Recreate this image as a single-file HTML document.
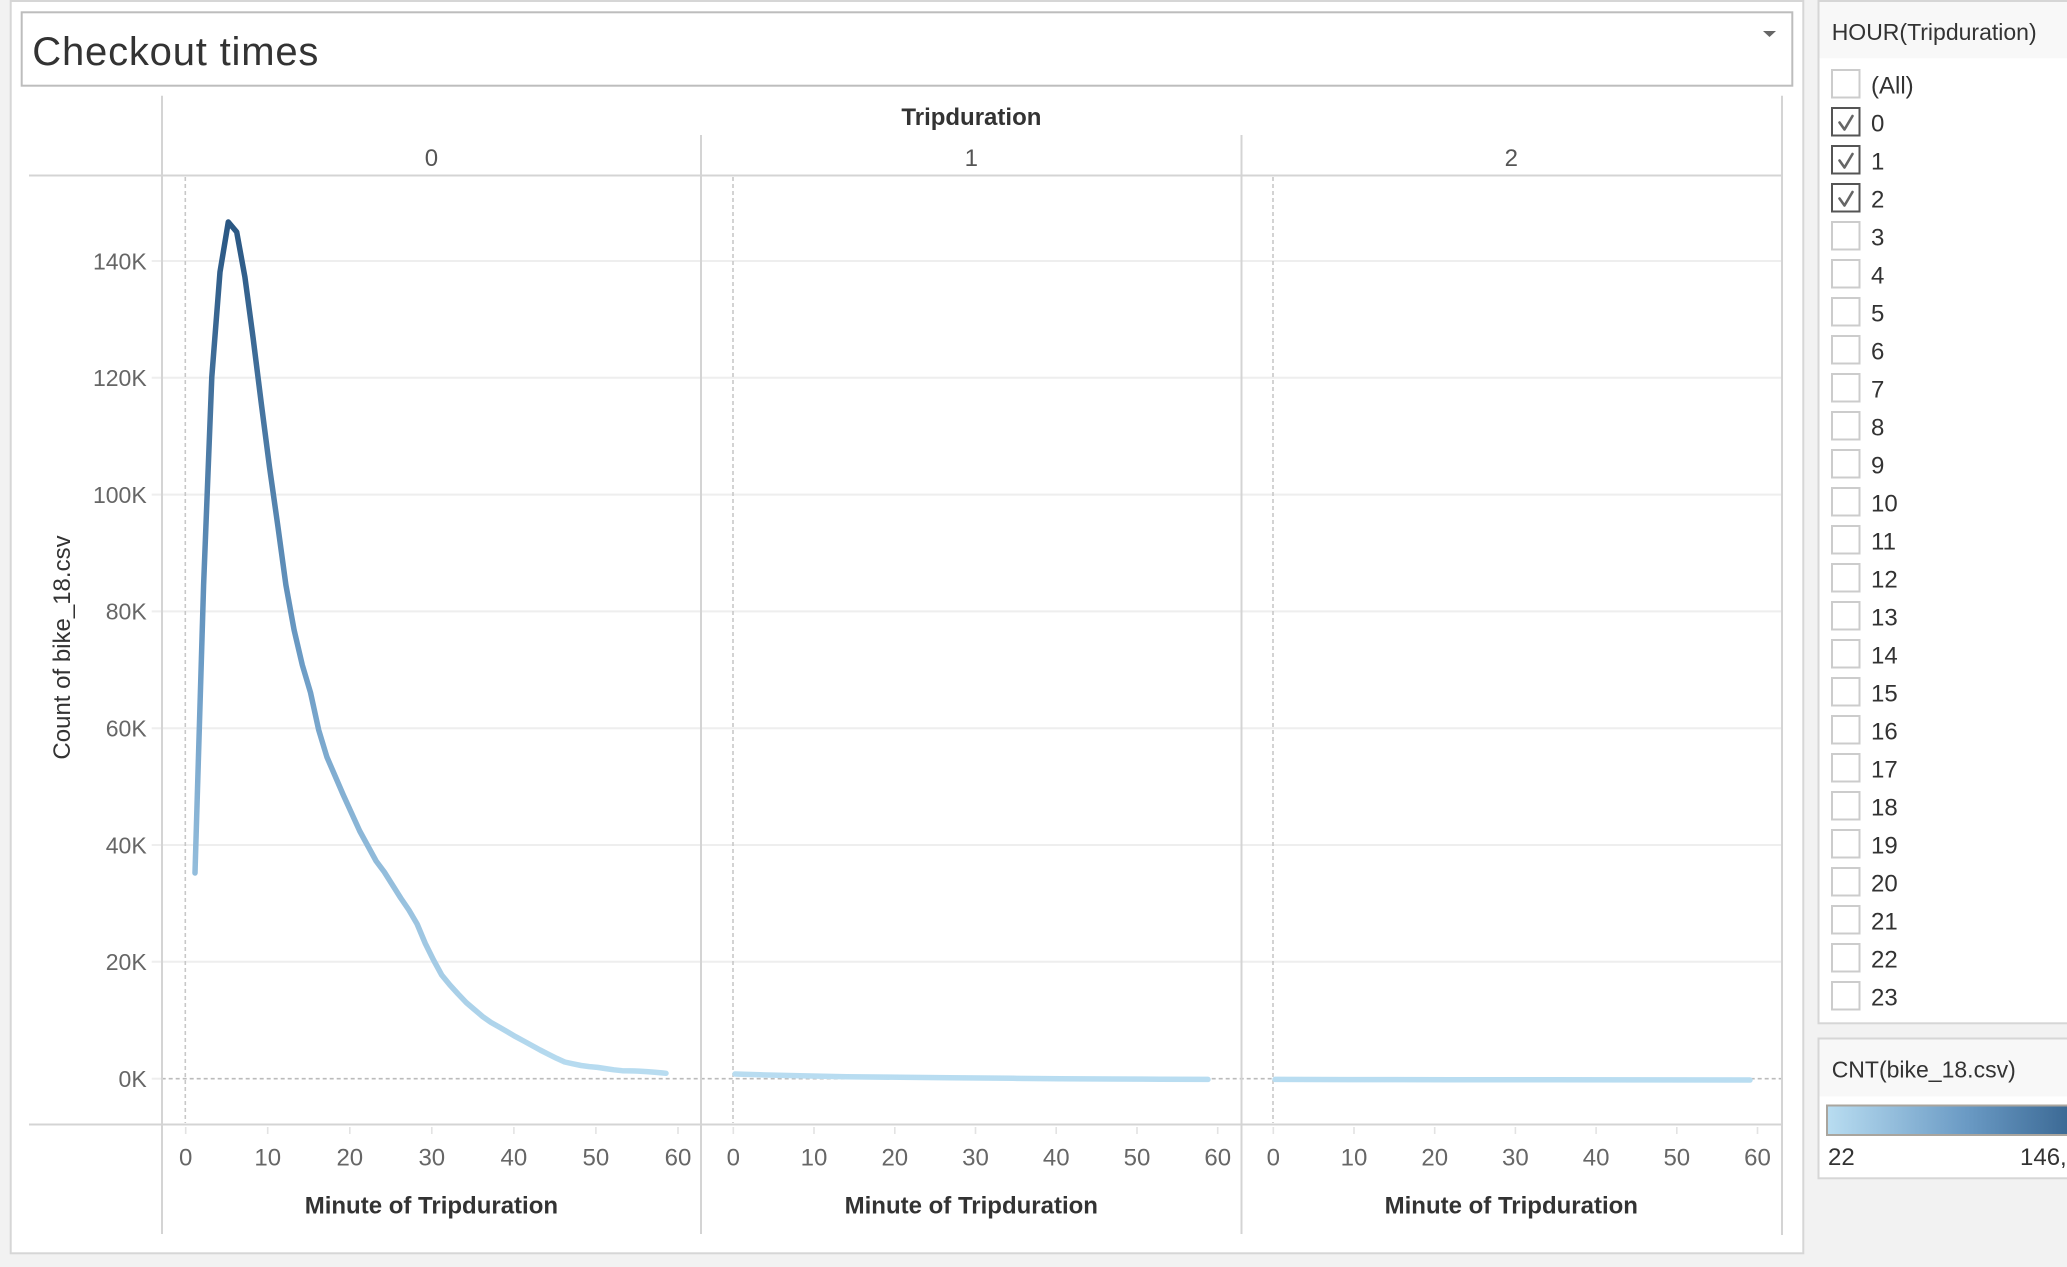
<!DOCTYPE html>
<html>
<head>
<meta charset="utf-8">
<style>
html,body{margin:0;padding:0;background:#f2f2f2;}
svg{display:block;}
text{font-family:"Liberation Sans",sans-serif;}
</style>
</head>
<body>
<svg width="2067" height="1267" viewBox="0 0 2067 1267" xmlns="http://www.w3.org/2000/svg">
<defs>
  <linearGradient id="val" gradientUnits="userSpaceOnUse" x1="0" y1="1078.7" x2="0" y2="221.7">
    <stop offset="0" stop-color="#b9ddf1"/>
    <stop offset="0.5" stop-color="#6a9ac4"/>
    <stop offset="1" stop-color="#2a5783"/>
  </linearGradient>
  <linearGradient id="leg" gradientUnits="userSpaceOnUse" x1="1827" y1="0" x2="2107" y2="0">
    <stop offset="0" stop-color="#b9ddf1"/>
    <stop offset="0.5" stop-color="#6a9ac4"/>
    <stop offset="1" stop-color="#2a5783"/>
  </linearGradient>
</defs>

<!-- page background -->
<rect x="0" y="0" width="2067" height="1267" fill="#f2f2f2"/>

<!-- dashboard container -->
<rect x="10.7" y="1" width="1792.6" height="1252.3" fill="#ffffff" stroke="#d6d6d6" stroke-width="2"/>

<!-- title box -->
<rect x="21.7" y="12.3" width="1770.6" height="73.4" fill="#ffffff" stroke="#bdbdbd" stroke-width="2"/>
<text x="32.3" y="65" font-size="40" fill="#333333" letter-spacing="0.8">Checkout times</text>
<polygon points="1763,31 1776,31 1769.5,37" fill="#666666"/>

<!-- gridlines -->
<g stroke="#eeeeee" stroke-width="2">
  <line x1="151.7" y1="261" x2="1781" y2="261"/>
  <line x1="151.7" y1="377.8" x2="1781" y2="377.8"/>
  <line x1="151.7" y1="494.6" x2="1781" y2="494.6"/>
  <line x1="151.7" y1="611.4" x2="1781" y2="611.4"/>
  <line x1="151.7" y1="728.2" x2="1781" y2="728.2"/>
  <line x1="151.7" y1="845" x2="1781" y2="845"/>
  <line x1="151.7" y1="961.8" x2="1781" y2="961.8"/>
  <line x1="151.7" y1="1078.7" x2="161.7" y2="1078.7"/>
</g>

<!-- zero dashed line -->
<line x1="161.7" y1="1078.7" x2="1781" y2="1078.7" stroke="#bbbbbb" stroke-width="1.6" stroke-dasharray="4 3"/>

<!-- x=0 dashed verticals -->
<g stroke="#c8c8c8" stroke-width="1.6" stroke-dasharray="4 3">
  <line x1="185.3" y1="177" x2="185.3" y2="1123"/>
  <line x1="733" y1="177" x2="733" y2="1123"/>
  <line x1="1273" y1="177" x2="1273" y2="1123"/>
</g>

<!-- chart frame lines -->
<g stroke="#d4d4d4" stroke-width="2" fill="none">
  <line x1="162" y1="95.7" x2="162" y2="1234"/>
  <line x1="1782" y1="95.7" x2="1782" y2="1235"/>
  <line x1="701" y1="135" x2="701" y2="1234"/>
  <line x1="1241.5" y1="135" x2="1241.5" y2="1234"/>
  <line x1="29" y1="175.5" x2="1782" y2="175.5"/>
  <line x1="29" y1="1124.5" x2="1782" y2="1124.5"/>
</g>

<!-- x tick marks -->
<g stroke="#e3e3e3" stroke-width="1.6">
  <line x1="185.7" y1="1127" x2="185.7" y2="1134"/>
  <line x1="267.7" y1="1127" x2="267.7" y2="1134"/>
  <line x1="349.8" y1="1127" x2="349.8" y2="1134"/>
  <line x1="431.8" y1="1127" x2="431.8" y2="1134"/>
  <line x1="513.9" y1="1127" x2="513.9" y2="1134"/>
  <line x1="595.9" y1="1127" x2="595.9" y2="1134"/>
  <line x1="678" y1="1127" x2="678" y2="1134"/>
  <line x1="733.3" y1="1127" x2="733.3" y2="1134"/>
  <line x1="814" y1="1127" x2="814" y2="1134"/>
  <line x1="894.8" y1="1127" x2="894.8" y2="1134"/>
  <line x1="975.5" y1="1127" x2="975.5" y2="1134"/>
  <line x1="1056.2" y1="1127" x2="1056.2" y2="1134"/>
  <line x1="1137" y1="1127" x2="1137" y2="1134"/>
  <line x1="1217.7" y1="1127" x2="1217.7" y2="1134"/>
  <line x1="1273.3" y1="1127" x2="1273.3" y2="1134"/>
  <line x1="1354" y1="1127" x2="1354" y2="1134"/>
  <line x1="1434.7" y1="1127" x2="1434.7" y2="1134"/>
  <line x1="1515.4" y1="1127" x2="1515.4" y2="1134"/>
  <line x1="1596.1" y1="1127" x2="1596.1" y2="1134"/>
  <line x1="1676.8" y1="1127" x2="1676.8" y2="1134"/>
  <line x1="1757.5" y1="1127" x2="1757.5" y2="1134"/>
</g>

<!-- headers -->
<text x="971.4" y="125" font-size="24" font-weight="bold" fill="#333333" text-anchor="middle">Tripduration</text>
<g font-size="24" fill="#555555" text-anchor="middle">
  <text x="431.4" y="166">0</text>
  <text x="971.3" y="166">1</text>
  <text x="1511.3" y="166">2</text>
</g>

<!-- y axis labels -->
<g font-size="23" fill="#666666" text-anchor="end">
  <text x="146.7" y="269.3">140K</text>
  <text x="146.7" y="386.1">120K</text>
  <text x="146.7" y="502.9">100K</text>
  <text x="146.7" y="619.7">80K</text>
  <text x="146.7" y="736.5">60K</text>
  <text x="146.7" y="853.3">40K</text>
  <text x="146.7" y="970.1">20K</text>
  <text x="146.7" y="1087">0K</text>
</g>
<text transform="translate(70,647.5) rotate(-90)" font-size="24" fill="#333333" text-anchor="middle">Count of bike_18.csv</text>

<!-- x tick labels -->
<g font-size="24" fill="#666666" text-anchor="middle">
  <text x="185.7" y="1165.3">0</text>
  <text x="267.7" y="1165.3">10</text>
  <text x="349.8" y="1165.3">20</text>
  <text x="431.8" y="1165.3">30</text>
  <text x="513.9" y="1165.3">40</text>
  <text x="595.9" y="1165.3">50</text>
  <text x="678" y="1165.3">60</text>
  <text x="733.3" y="1165.3">0</text>
  <text x="814" y="1165.3">10</text>
  <text x="894.8" y="1165.3">20</text>
  <text x="975.5" y="1165.3">30</text>
  <text x="1056.2" y="1165.3">40</text>
  <text x="1137" y="1165.3">50</text>
  <text x="1217.7" y="1165.3">60</text>
  <text x="1273.3" y="1165.3">0</text>
  <text x="1354" y="1165.3">10</text>
  <text x="1434.7" y="1165.3">20</text>
  <text x="1515.4" y="1165.3">30</text>
  <text x="1596.1" y="1165.3">40</text>
  <text x="1676.8" y="1165.3">50</text>
  <text x="1757.5" y="1165.3">60</text>
</g>
<g font-size="24" font-weight="bold" fill="#333333" text-anchor="middle">
  <text x="431.4" y="1213.3">Minute of Tripduration</text>
  <text x="971.3" y="1213.3">Minute of Tripduration</text>
  <text x="1511.3" y="1213.3">Minute of Tripduration</text>
</g>

<!-- data lines -->
<g fill="none" stroke="url(#val)" stroke-width="5.5" stroke-linejoin="round" stroke-linecap="round">
  <polyline points="195,873 203.6,585 211.8,377 220,272 228.3,222 236.7,232 244.9,277 253.1,338 261.3,403.5 269.5,467 277.7,525 285.9,585 294.1,630 302.3,665 310.5,692.5 318.7,730 326.9,757 335.1,776 343.3,795 351.5,813 359.7,831 367.9,846 376.1,861 384.3,872 392.5,885 400.7,898 408.9,910 417.1,924 425.3,943.5 433.5,960 441.7,975 449.9,985 458.1,994 466.3,1002.6 474.5,1009.6 482.7,1016.6 490.9,1022.4 499.1,1027 507.3,1031.8 515.5,1036.6 523.7,1041 531.9,1045.5 540.1,1050 548.3,1054.2 556.5,1058.3 564.7,1062 572.9,1063.8 581.1,1065.5 589.3,1066.6 597.5,1067.4 605.7,1068.6 613.9,1069.8 622.1,1070.7 630.3,1070.9 638.5,1071.1 646.7,1071.6 654.9,1072.3 663.1,1073 666,1073.3"/>
  <polyline points="735,1074 760,1074.8 800,1075.8 846.7,1076.7 900,1077.3 950,1077.8 1013,1078.3 1060,1078.7 1110,1079 1160,1079.2 1208,1079.4"/>
  <polyline points="1275,1079.4 1350,1079.6 1450,1079.7 1550,1079.8 1650,1079.9 1750,1080"/>
</g>

<!-- filter panel -->
<rect x="1818.5" y="1" width="270" height="1022.3" fill="#ffffff" stroke="#d6d6d6" stroke-width="2"/>
<rect x="1819.5" y="2" width="268" height="56.3" fill="#f8f8f8"/>
<text x="1831.7" y="40" font-size="23" fill="#333333">HOUR(Tripduration)</text>

<g fill="#ffffff" stroke="#cccccc" stroke-width="2">
  <rect x="1832" y="70" width="27.5" height="27.5"/>
  <rect x="1832" y="184" width="27.5" height="27.5"/>
  <rect x="1832" y="222" width="27.5" height="27.5"/>
  <rect x="1832" y="260" width="27.5" height="27.5"/>
  <rect x="1832" y="298" width="27.5" height="27.5"/>
  <rect x="1832" y="336" width="27.5" height="27.5"/>
  <rect x="1832" y="374" width="27.5" height="27.5"/>
  <rect x="1832" y="412" width="27.5" height="27.5"/>
  <rect x="1832" y="450" width="27.5" height="27.5"/>
  <rect x="1832" y="488" width="27.5" height="27.5"/>
  <rect x="1832" y="526" width="27.5" height="27.5"/>
  <rect x="1832" y="564" width="27.5" height="27.5"/>
  <rect x="1832" y="602" width="27.5" height="27.5"/>
  <rect x="1832" y="640" width="27.5" height="27.5"/>
  <rect x="1832" y="678" width="27.5" height="27.5"/>
  <rect x="1832" y="716" width="27.5" height="27.5"/>
  <rect x="1832" y="754" width="27.5" height="27.5"/>
  <rect x="1832" y="792" width="27.5" height="27.5"/>
  <rect x="1832" y="830" width="27.5" height="27.5"/>
  <rect x="1832" y="868" width="27.5" height="27.5"/>
  <rect x="1832" y="906" width="27.5" height="27.5"/>
  <rect x="1832" y="944" width="27.5" height="27.5"/>
  <rect x="1832" y="982" width="27.5" height="27.5"/>
</g>
<g fill="#ffffff" stroke="#555555" stroke-width="2">
  <rect x="1832" y="108" width="27.5" height="27.5"/>
  <rect x="1832" y="146" width="27.5" height="27.5"/>
  <rect x="1832" y="184" width="27.5" height="27.5"/>
</g>
<g fill="none" stroke="#666666" stroke-width="2.6" stroke-linecap="round" stroke-linejoin="round">
  <polyline points="1839.5,122.5 1844.5,129.5 1852.5,116"/>
  <polyline points="1839.5,160.5 1844.5,167.5 1852.5,154"/>
  <polyline points="1839.5,198.5 1844.5,205.5 1852.5,192"/>
</g>
<g font-size="24" fill="#333333">
  <text x="1871" y="93.5">(All)</text>
  <text x="1871" y="131.5">0</text>
  <text x="1871" y="169.5">1</text>
  <text x="1871" y="207.5">2</text>
  <text x="1871" y="245.5">3</text>
  <text x="1871" y="283.5">4</text>
  <text x="1871" y="321.5">5</text>
  <text x="1871" y="359.5">6</text>
  <text x="1871" y="397.5">7</text>
  <text x="1871" y="435.5">8</text>
  <text x="1871" y="473.5">9</text>
  <text x="1871" y="511.5">10</text>
  <text x="1871" y="549.5">11</text>
  <text x="1871" y="587.5">12</text>
  <text x="1871" y="625.5">13</text>
  <text x="1871" y="663.5">14</text>
  <text x="1871" y="701.5">15</text>
  <text x="1871" y="739.5">16</text>
  <text x="1871" y="777.5">17</text>
  <text x="1871" y="815.5">18</text>
  <text x="1871" y="853.5">19</text>
  <text x="1871" y="891.5">20</text>
  <text x="1871" y="929.5">21</text>
  <text x="1871" y="967.5">22</text>
  <text x="1871" y="1005.5">23</text>
</g>

<!-- legend -->
<rect x="1818.5" y="1038.5" width="270" height="139.8" fill="#ffffff" stroke="#d6d6d6" stroke-width="2"/>
<rect x="1819.5" y="1039.5" width="268" height="57" fill="#f8f8f8"/>
<text x="1831.7" y="1077.3" font-size="23" fill="#333333">CNT(bike_18.csv)</text>
<rect x="1827" y="1105.5" width="280" height="29.5" fill="url(#leg)" stroke="#a9a59e" stroke-width="2"/>
<text x="1828" y="1165" font-size="24" fill="#333333">22</text>
<text x="2020" y="1165" font-size="24" fill="#333333">146,</text>
</svg>
</body>
</html>
